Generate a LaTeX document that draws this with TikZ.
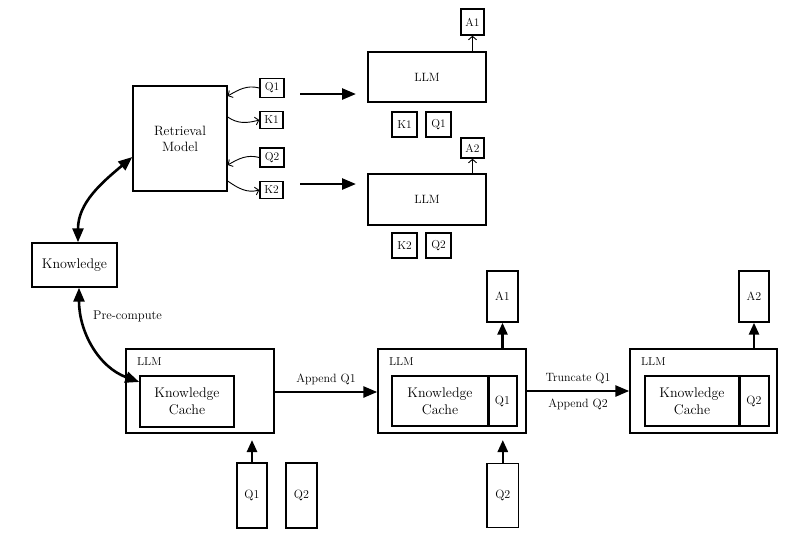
\documentclass[tikz,border=0pt]{standalone}
\usetikzlibrary{arrows.meta}
\begin{document}
\begin{tikzpicture}[x=1pt,y=-1pt,
  box/.style={draw,line width=1.4pt,inner sep=0pt,minimum width=#1},
  box/.default=20pt,
  thinarr/.style={line width=0.9pt,-{Straight Barb[length=3.5pt,width=8pt]}},
  thickarr/.style={line width=2.6pt,-{Triangle[length=14pt,width=11pt]}},
  bithick/.style={line width=2.6pt,{Triangle[length=14pt,width=11pt]}-{Triangle[length=14pt,width=11pt]}},
  upshort/.style={line width=2.6pt,-{Triangle[length=12pt,width=10pt]}},
  fbig/.style={font=\fontsize{14}{17}\selectfont},
  fmid/.style={font=\fontsize{12}{14}\selectfont},
  fsml/.style={font=\fontsize{11.5}{13}\selectfont},
]
\useasboundingbox (0,0) rectangle (800,547);

% Upper part
\node[box=94pt,minimum height=105pt,align=center,font=\fontsize{13.5}{16}\selectfont] (rm) at (180,138.5) {Retrieval\\Model};
\node[box=85pt,minimum height=44pt,fbig] (know) at (74.5,265) {Knowledge};

\node[box=24pt,minimum height=19pt,fsml] (sq1) at (272,88) {Q1};
\node[box=23pt,minimum height=17pt,fsml] (sk1) at (271.5,120) {K1};
\node[box=24pt,minimum height=19pt,fsml] (sq2) at (272,157.5) {Q2};
\node[box=23pt,minimum height=17pt,fsml] (sk2) at (271.5,190) {K2};

\draw[thinarr] (sq1.west) to[out=165,in=30] (rm.east |- 0,96);
\draw[thinarr] (rm.east |- 0,117) to[out=-35,in=195] (sk1.west);
\draw[thinarr] (sq2.west) to[out=165,in=30] (rm.east |- 0,165);
\draw[thinarr] (rm.east |- 0,181) to[out=-35,in=195] (sk2.west);

\draw[bithick] (know.north -| 78,0) to[out=90,in=-140] (rm.west |- 0,157);

\node[box=118pt,minimum height=50pt,fmid] (llma) at (427,77) {LLM};
\node[box=23pt,minimum height=26pt,fsml] (a1s) at (472.5,22) {A1};
\node[box=25pt,minimum height=25pt,fsml] (k1b) at (404.5,124.5) {K1};
\node[box=25pt,minimum height=25pt,fsml] (q1b) at (438.5,124.5) {Q1};
\draw[thinarr] (a1s.south |- llma.north) -- (a1s.south);

\node[box=118pt,minimum height=51pt,fmid] (llmb) at (427,199.5) {LLM};
\node[box=23pt,minimum height=20pt,fsml] (a2s) at (472.5,148) {A2};
\node[box=25pt,minimum height=25pt,fsml] (k2b) at (404.5,245.5) {K2};
\node[box=25pt,minimum height=25pt,fsml] (q2b) at (438.5,245.5) {Q2};
\draw[thinarr] (a2s.south |- llmb.north) -- (a2s.south);

\coordinate (t1s) at (300,94); \coordinate (t1e) at (356,94);
\coordinate (t2s) at (300,184); \coordinate (t2e) at (356,184);
\draw[thickarr] (t1s) -- (t1e);
\draw[thickarr] (t2s) -- (t2e);

% Lower part
\node[box=148pt,minimum height=84pt] (llm1) at (200,391) {};
\node[fsml,anchor=west,inner sep=0pt] (l1) at (137,362) {LLM};
\node[box=94pt,minimum height=51pt,align=center,fbig] (kc1) at (187,401.5) {Knowledge\\Cache};

\node[box=148pt,minimum height=84pt] (llm2) at (452,391) {};
\node[fsml,anchor=west,inner sep=0pt] (l2) at (389,362) {LLM};
\node[box=96pt,minimum height=50pt,align=center,fbig] (kc2) at (440,401) {Knowledge\\Cache};
\node[box=29pt,minimum height=50pt,fmid] (q1c) at (502.5,401) {Q1};
\draw[line width=2.4pt] (kc2.north east) -- (kc2.south east);

\node[box=147pt,minimum height=84pt] (llm3) at (703.5,391) {};
\node[fsml,anchor=west,inner sep=0pt] (l3) at (641,362) {LLM};
\node[box=94pt,minimum height=50pt,align=center,fbig] (kc3) at (692,401) {Knowledge\\Cache};
\node[box=30pt,minimum height=50pt,fmid] (q2c) at (754,401) {Q2};
\draw[line width=2.4pt] (kc3.north east) -- (kc3.south east);

\node[box=31pt,minimum height=51pt,fmid] (a1t) at (502.5,296.5) {A1};
\node[box=30pt,minimum height=51pt,fmid] (a2t) at (754,296.5) {A2};
\draw[upshort] (a1t.south |- llm2.north) -- (a1t.south);
\draw[upshort] (a2t.south |- llm3.north) -- (a2t.south);

\node[box=30pt,minimum height=65pt,fmid] (q1t) at (252,495.5) {Q1};
\node[box=31pt,minimum height=65pt,fmid] (q2t) at (301.5,495.5) {Q2};
\node[box=31.6pt,minimum height=64pt,fmid] (q2u) at (502.8,495.5) {Q2};
\coordinate (q1tip) at (252,440);
\coordinate (q2tip) at (502.8,440);
\draw[upshort] (q1t.north) -- (q1tip);
\draw[upshort] (q2u.north) -- (q2tip);

\draw[thickarr] (llm1.east |- 0,392) -- node[above=3pt,fmid] (ap1) {Append Q1} (llm2.west |- 0,392);
\draw[thickarr] (llm2.east |- 0,391) -- node[above=3pt,fmid] (tr1) {Truncate Q1} node[below=3pt,fmid] (ap2) {Append Q2} (llm3.west |- 0,391);

\draw[bithick] (know.south -| 79,0) to[out=-90,in=160] (kc1.north west |- 0,382);
\node[font=\fontsize{12.6}{14}\selectfont,anchor=west,inner sep=0pt] (pc) at (93,316) {Pre-compute};
\end{tikzpicture}
\end{document}
